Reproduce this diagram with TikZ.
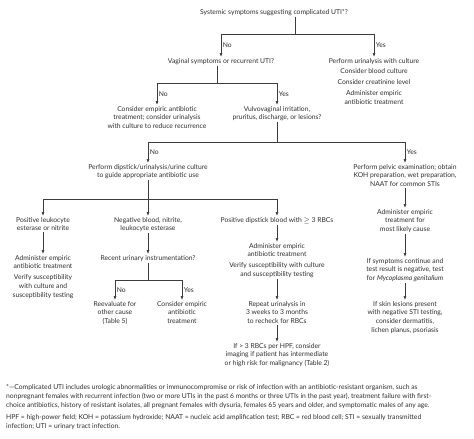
\documentclass[tikz,border=0pt]{standalone}
\usepackage{fontspec}
\setmainfont{Lato}
\usepackage{tikz}
\usetikzlibrary{arrows.meta}
\definecolor{inkgray}{RGB}{45, 45, 45}
\definecolor{linegray}{RGB}{60, 60, 60}

\begin{document}
\begin{tikzpicture}[
    x=1pt, y=-1pt,
    txt/.style={font=\fontsize{6.75}{8.8}\selectfont, text=inkgray, align=center, inner sep=1pt, anchor=north},
    note/.style={font=\fontsize{6.75}{9.2}\selectfont, text=inkgray, align=left, inner sep=0pt, anchor=north west},
    yn/.style={font=\fontsize{6.75}{8}\selectfont, text=inkgray, anchor=west, inner sep=1.5pt},
    ln/.style={draw=linegray, line width=0.6pt},
    arr/.style={draw=linegray, line width=0.6pt, -{Latex[length=4pt, width=3pt]}}
]
  \useasboundingbox (0,0) rectangle (474,439);

  % Top question
  \node[txt] (sys) at (274,8) {Systemic symptoms suggesting complicated UTI*?};
  \coordinate (j1) at (295.5,34);

  % Level 1
  \node[txt] (vag) at (221,57) {Vaginal symptoms or recurrent UTI?};
  \node[txt] (uri) at (374,57) {Perform urinalysis with culture\\[2pt]
    Consider blood culture\\[2pt]Consider creatinine level\\[2pt]
    Administer empiric\\antibiotic treatment};
  \coordinate (j2) at (217,83);

  % Level 2
  \node[txt] (cons) at (157,105) {Consider empiric antibiotic\\treatment; consider urinalysis\\with culture to reduce recurrence};
  \node[txt] (vul) at (277,105) {Vulvovaginal irritation,\\pruritus, discharge, or lesions?};
  \coordinate (j3) at (277,142);

  % Level 3
  \node[txt] (dip) at (148,163) {Perform dipstick/urinalysis/urine culture\\to guide appropriate antibiotic use};
  \node[txt] (pel) at (405,163) {Perform pelvic examination; obtain\\KOH preparation, wet preparation,\\NAAT for common STIs};
  \coordinate (j4) at (148,199);

  % Dipstick results
  \node[txt] (pos) at (43,216) {Positive leukocyte\\esterase or nitrite};
  \node[txt] (neg) at (148,216) {Negative blood, nitrite,\\leukocyte esterase};
  \node[txt] (blood) at (277,216) {Positive dipstick blood with $\geq$ 3 RBCs};

  \node[txt] (admL) at (43,254) {Administer empiric\\antibiotic treatment\\[2pt]Verify susceptibility\\with culture and\\susceptibility testing};
  \node[txt] (recent) at (148,254) {Recent urinary instrumentation?};
  \coordinate (j5) at (148.5,280);
  \node[txt] (reev) at (115,300) {Reevaluate for\\other cause\\(Table 5)};
  \node[txt] (consE) at (182,300) {Consider empiric\\antibiotic\\treatment};

  \node[txt] (admM) at (277,242) {Administer empiric\\antibiotic treatment\\[2pt]Verify susceptibility with culture\\and susceptibility testing};
  \node[txt] (repeat) at (277,300) {Repeat urinalysis in\\3 weeks to 3 months\\to recheck for RBCs};
  \node[txt] (img) at (277,342) {If > 3 RBCs per HPF, consider\\imaging if patient has intermediate\\or high risk for malignancy (Table 2)};

  % STI branch
  \node[txt] (admR) at (405,208) {Administer empiric\\treatment for\\most likely cause};
  \node[txt] (cont) at (405,257) {If symptoms continue and\\test result is negative, test\\for \textit{Mycoplasma genitalium}};
  \node[txt] (skin) at (405,300) {If skin lesions present\\with negative STI testing,\\consider dermatitis,\\lichen planus, psoriasis};

  % Footnotes
  \node[note] (fn) at (6,384) {*—Complicated UTI includes urologic abnormalities or immunocompromise or risk of infection with an antibiotic-resistant organism, such as\\
    nonpregnant females with recurrent infection (two or more UTIs in the past 6 months or three UTIs in the past year), treatment failure with first-\\
    choice antibiotics, history of resistant isolates, all pregnant females with dysuria, females 65 years and older, and symptomatic males of any age.};
  \node[note] (abbr) at (6,414) {HPF = high-power field; KOH = potassium hydroxide; NAAT = nucleic acid amplification test; RBC = red blood cell; STI = sexually transmitted\\
    infection; UTI = urinary tract infection.};

  % Connectors
  \draw[ln] (j1 |- sys.south) -- (j1);
  \draw[arr] (j1) -| node[yn, pos=0.75] {No} (vag.north);
  \draw[arr] (j1) -| node[yn, pos=0.75] {Yes} (uri.north);

  \draw[ln] (j2 |- vag.south) -- (j2);
  \draw[arr] (j2) -| node[yn, pos=0.75] {No} (cons.north);
  \draw[arr] (j2) -| node[yn, pos=0.75] {Yes} (vul.north);

  \draw[ln] (vul.south) -- (j3);
  \draw[arr] (j3) -| node[yn, pos=0.75] {No} (dip.north);
  \draw[arr] (j3) -| node[yn, pos=0.75] {Yes} (pel.north);

  \draw[arr] (dip.south) -- (neg.north);
  \draw[arr] (j4) -| (pos.north);
  \draw[arr] (j4) -| (blood.north);

  \draw[arr] (pos) -- (admL);
  \draw[arr] (neg) -- (recent);
  \draw[ln] (j5 |- recent.south) -- (j5);
  \draw[arr] (j5) -| node[yn, pos=0.75] {No} (reev.north);
  \draw[arr] (j5) -| node[yn, pos=0.75] {Yes} (consE.north);

  \draw[arr] (blood) -- (admM);
  \draw[arr] (admM) -- (repeat);
  \draw[arr] (repeat) -- (img);

  \draw[arr] (pel) -- (admR);
  \draw[arr] (admR) -- (cont);
  \draw[arr] (cont) -- (skin);
\end{tikzpicture}
\end{document}
